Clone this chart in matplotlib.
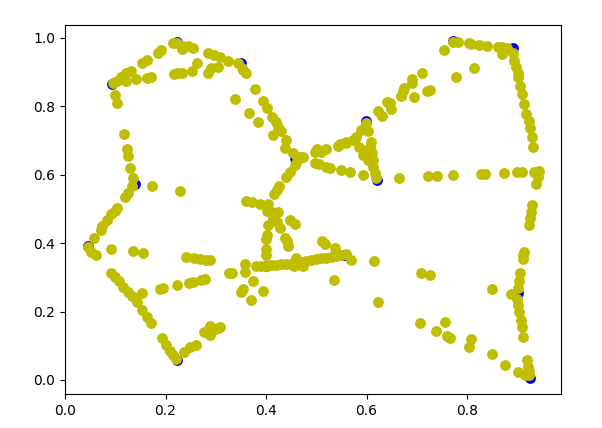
import matplotlib
matplotlib.use("Agg")
import matplotlib.pyplot as plt

blue_x = [0.094, 0.222, 0.350, 0.599, 0.773, 0.892, 0.140, 0.045, 0.458, 0.620, 0.400, 0.556, 0.902, 0.223, 0.925]
blue_y = [0.865, 0.988, 0.928, 0.757, 0.990, 0.972, 0.572, 0.393, 0.648, 0.586, 0.333, 0.366, 0.253, 0.057, 0.006]

pts_top_left = [(.095,.867),(.103,.875),(.112,.885),(.122,.897),(.132,.904),(.122,.874),(.142,.879),(.163,.882),(.172,.886),
    (.154,.928),(.163,.936),(.185,.957),(.192,.965),(.215,.986),(.223,.986),(.233,.977),(.233,.967),(.245,.977),(.255,.970),
    (.216,.894),(.223,.897),(.233,.897),(.253,.904),(.263,.927),(.285,.955),(.285,.897),(.291,.911),(.305,.914),(.296,.950),
    (.308,.944),(.324,.934),(.099,.833),(.103,.810),(.117,.718)]
pts_top_mid = [(.344,.926),(.352,.912),(.354,.907),(.360,.897),(.378,.850),(.339,.821),(.394,.815),(.402,.795),(.366,.780),
    (.384,.755),(.411,.770),(.419,.755),(.424,.741),(.429,.728),(.414,.716),(.440,.701),(.598,.750),(.590,.731),(.580,.711),
    (.603,.728),(.573,.702),(.560,.697),(.547,.690),(.623,.786),(.630,.773),(.640,.812),(.608,.697)]
pts_top_right = [(.646,.811),(.648,.791),(.668,.830),(.672,.846),(.674,.855),(.691,.879),(.691,.867),(.711,.897),(.695,.827),
    (.721,.844),(.726,.847),(.755,.964),(.779,.885),(.814,.911),(.773,.987),(.783,.987),(.803,.984),(.808,.982),(.824,.980),
    (.840,.977),(.861,.974),(.869,.973),(.879,.970),(.870,.952),(.892,.955),(.894,.934),(.898,.916),(.901,.899),(.902,.885),
    (.906,.859),(.910,.836),(.913,.807),(.917,.777),(.923,.756),(.925,.736),(.929,.711),(.932,.682)]
pts_left = [(.123,.675),(.125,.656),(.130,.621),(.135,.590),(.134,.567),(.125,.548),(.119,.534),(.103,.504),(.099,.495),(.092,.485),
    (.083,.468),(.074,.450),(.072,.440),(.057,.414),(.045,.390),(.052,.375),(.062,.364),(.091,.382),(.135,.376),(.155,.370),
    (.173,.567),(.229,.552),(.240,.359),(.257,.356),(.269,.353),(.281,.351),(.289,.350)]
pts_centre = [(.437,.677),(.454,.665),(.462,.641),(.467,.651),(.474,.651),(.497,.668),(.502,.675),(.510,.668),(.520,.675),(.544,.684),
    (.560,.692),(.457,.629),(.447,.609),(.439,.594),(.426,.568),(.421,.556),(.415,.543),(.360,.522),(.372,.519),(.389,.516),(.404,.516),
    (.401,.495),(.411,.492),(.424,.491),(.414,.473),(.421,.463),(.427,.443),(.403,.453),(.401,.424),(.400,.411),(.399,.382),(.399,.365),
    (.447,.468),(.457,.456),(.437,.416),(.441,.405),(.444,.392),(.512,.407),(.518,.398),(.537,.385),(.570,.351),(.615,.349),
    (.497,.634),(.505,.632),(.520,.624),(.527,.620),(.550,.614),(.567,.607),(.593,.599),(.618,.590),(.606,.682),(.600,.672),(.586,.682),
    (.593,.658),(.603,.643),(.613,.624),(.617,.604),(.610,.663),(.613,.643)]
pts_chain = [(.381,.334),(.390,.334),(.400,.333),(.410,.335),(.420,.336),(.430,.338),(.440,.339),(.450,.340),(.460,.342),(.470,.344),
    (.480,.347),(.490,.350),(.500,.354),(.510,.356),(.520,.358),(.530,.360),(.540,.362),(.550,.365),(.560,.367),(.455,.333),(.474,.333),(.459,.357)]
pts_mid_low = [(.359,.338),(.359,.317),(.332,.312),(.374,.290),(.355,.265),(.351,.257),(.394,.261),(.370,.233),(.536,.291),(.623,.227),(.308,.156)]
pts_right = [(.665,.590),(.723,.596),(.741,.596),(.773,.598),(.828,.601),(.836,.601),(.874,.604),(.900,.607),(.909,.607),(.933,.609),
    (.943,.612),(.942,.594),(.938,.572),(.930,.511),(.928,.491),(.926,.473),(.924,.453),(.913,.375),(.912,.364),(.911,.353)]
pts_low_left = [(.091,.314),(.099,.302),(.107,.288),(.115,.273),(.125,.258),(.134,.245),(.143,.228),(.153,.205),(.163,.183),(.172,.168),
    (.153,.253),(.190,.265),(.196,.269),(.223,.277),(.247,.283),(.255,.287),(.271,.291),(.278,.294),(.326,.312),(.193,.122),(.200,.102),
    (.208,.086),(.215,.073),(.221,.061),(.237,.081),(.249,.095),(.261,.101),(.276,.139),(.288,.159),(.288,.132),(.304,.153),(.298,.149)]
pts_low_right = [(.906,.312),(.904,.288),(.902,.270),(.888,.251),(.850,.265),(.708,.312),(.727,.306),(.900,.236),(.902,.219),(.904,.200),
    (.907,.176),(.909,.156),(.912,.127),(.707,.167),(.739,.142),(.757,.169),(.761,.128),(.767,.122),(.808,.119),(.804,.095),(.850,.077),
    (.876,.043),(.902,.023),(.915,.015),(.920,.059),(.922,.039),(.924,.015),(.923,.025)]

yellow = (pts_top_left + pts_top_mid + pts_top_right + pts_left + pts_centre + pts_chain
          + pts_mid_low + pts_right + pts_low_left + pts_low_right)
yellow_x = [p[0] for p in yellow]
yellow_y = [p[1] for p in yellow]

W, H = 602, 428
fig = plt.figure(figsize=(W / 100, H / 100), dpi=100)
ax = fig.add_axes([65 / W, (H - 394) / H, (561 - 65) / W, (394 - 25) / H])
ax.scatter(blue_x, blue_y, c="b", s=46)
ax.scatter(yellow_x, yellow_y, c="y", s=46)
ax.set_xlim(0, 0.987)
ax.set_ylim(-0.041, 1.038)
ax.set_xticks([0.0, 0.2, 0.4, 0.6, 0.8])
ax.set_yticks([0.0, 0.2, 0.4, 0.6, 0.8, 1.0])
fig.savefig("out.png", dpi=100)
